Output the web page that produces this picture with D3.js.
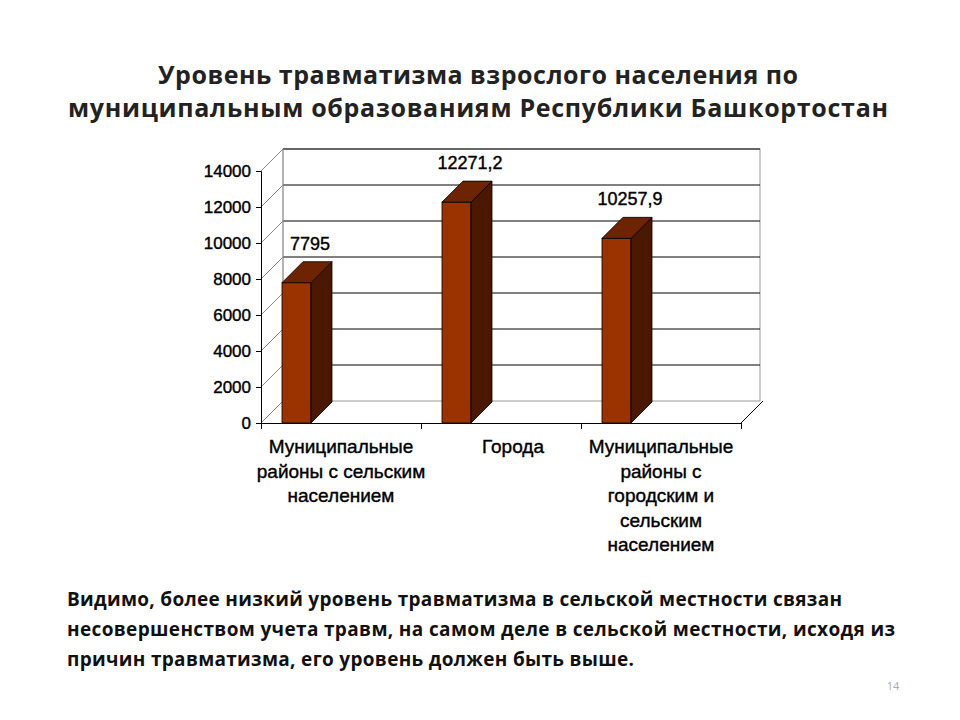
<!DOCTYPE html>
<html><head><meta charset="utf-8">
<script src="https://cdn.jsdelivr.net/npm/d3@7"></script>
<style>body{margin:0;background:#fff}</style>
</head><body>
<script>
var categories = [["Муниципальные","районы с сельским","населением"],["Города"],["Муниципальные","районы с","городским и","сельским","населением"]];
var values = [7795, 12271.2, 10257.9];
var valueLabels = ["7795", "12271,2", "10257,9"];
var yTicks = [0, 2000, 4000, 6000, 8000, 10000, 12000, 14000];
var titleLines = ["Уровень травматизма взрослого населения по", "муниципальным образованиям Республики Башкортостан"];
var noteLines = ["Видимо, более низкий уровень травматизма в сельской местности связан", "несовершенством учета травм, на самом деле в сельской местности, исходя из", "причин травматизма, его уровень должен быть выше."];

var svg = d3.select('body').append('svg').attr('width', 960).attr('height', 720);
var dx = 22, dy = -22;
var x = d3.scaleBand().domain(d3.range(3)).range([261, 741]);
var y = d3.scaleLinear().domain([0, 14000]).range([423, 171]);

svg.selectAll('.title').data(titleLines).enter().append('text')
    .attr('x', 478).attr('y', function (d, i) { return 84 + i * 33; })
    .attr('text-anchor', 'middle').attr('textLength', function (d, i) { return i ? 820 : 640; })
    .style('font', 'bold 25px "Open Sans", sans-serif').attr('fill', '#222').text(function (d) { return d; });

var g = svg.append('g');
// back wall
g.append('rect').attr('x', 261 + dx).attr('y', y(14000) + dy).attr('width', 477).attr('height', y(0) - y(14000))
    .attr('fill', 'none').attr('stroke', '#999');
// gridlines on back wall and left wall
yTicks.forEach(function (t) {
    if (t > 0) g.append('line').attr('x1', 261 + dx).attr('x2', 738 + dx).attr('y1', y(t) + dy).attr('y2', y(t) + dy).attr('stroke', '#000');
    g.append('line').attr('x1', 261).attr('x2', 261 + dx).attr('y1', y(t)).attr('y2', y(t) + dy).attr('stroke', '#888');
});
// floor
g.append('path').attr('d', 'M741,' + y(0) + ' L' + (741 + dx) + ',' + (y(0) + dy)).attr('stroke', '#000');
g.append('line').attr('x1', 261 + dx).attr('x2', 261 + dx).attr('y1', y(14000) + dy).attr('y2', y(0) + dy).attr('stroke', '#999');

// bars
var bw = 29, bd = 21;
var bars = g.selectAll('.bar').data(values).enter().append('g');
bars.append('rect').attr('x', function (d, i) { return x(i) + 21; }).attr('y', function (d) { return y(d); })
    .attr('width', bw).attr('height', function (d) { return y(0) - y(d); }).attr('fill', '#9a3300').attr('stroke', '#000').attr('stroke-width', 0.8);
bars.append('path').attr('d', function (d, i) {
    var x0 = x(i) + 21 + bw, t = y(d), b = y(0);
    return 'M' + x0 + ',' + t + 'L' + (x0 + bd) + ',' + (t - bd) + 'L' + (x0 + bd) + ',' + (b - bd) + 'L' + x0 + ',' + b + 'Z';
}).attr('fill', '#4a1800').attr('stroke', '#000').attr('stroke-width', 0.8);
bars.append('path').attr('d', function (d, i) {
    var x0 = x(i) + 21, t = y(d);
    return 'M' + x0 + ',' + t + 'L' + (x0 + bd) + ',' + (t - bd) + 'L' + (x0 + bw + bd) + ',' + (t - bd) + 'L' + (x0 + bw) + ',' + t + 'Z';
}).attr('fill', '#6e2400').attr('stroke', '#000').attr('stroke-width', 0.8);
bars.append('text').attr('x', function (d, i) { return x(i) + 21 + (bw + bd) / 2 + 3; })
    .attr('y', function (d) { return y(d) - 33; }).attr('text-anchor', 'middle')
    .style('font', '18px "Liberation Sans", Arial, sans-serif').style('stroke', '#000').style('stroke-width', 0.4)
    .text(function (d, i) { return valueLabels[i]; });

// axes
var yAxis = d3.axisLeft(y).tickValues(yTicks).tickSize(5).tickFormat(d3.format('d'));
svg.append('g').attr('transform', 'translate(261,0)').call(yAxis)
    .call(function (s) {
        s.selectAll('text').style('font', '17px "Liberation Sans", Arial, sans-serif').style('stroke', '#000').style('stroke-width', 0.4).attr('fill', '#000').attr('dx', '-2');
        s.select('.domain').attr('stroke', '#000');
    });
var xAxis = d3.axisBottom(d3.scaleLinear().domain([0, 3]).range([261, 741])).tickValues([0, 1, 2, 3]).tickSize(6).tickFormat('');
svg.append('g').attr('transform', 'translate(0,423)').call(xAxis).select('.domain').attr('stroke', '#000');

categories.forEach(function (lines, i) {
    svg.append('g').selectAll('text').data(lines).enter().append('text')
        .attr('x', x(i) + x.bandwidth() / 2 + (i === 1 ? 12 : 0)).attr('y', function (d, j) { return 453 + j * 24.5; })
        .attr('text-anchor', 'middle').style('font', '19px "Liberation Sans", Arial, sans-serif').style('stroke', '#000').style('stroke-width', 0.4)
        .text(function (d) { return d; });
});

svg.selectAll('.note').data(noteLines).enter().append('text')
    .attr('x', 67).attr('y', function (d, i) { return 606 + i * 30; })
    .attr('textLength', function (d, i) { return [775, 828, 567][i]; })
    .style('font', 'bold 19px "Open Sans", sans-serif').attr('fill', '#111').text(function (d) { return d; });
svg.append('text').attr('x', 893).attr('y', 690).attr('text-anchor', 'middle').style('font', '11px "Open Sans", sans-serif').attr('fill', '#aaa').text('14');
</script>
</body></html>
